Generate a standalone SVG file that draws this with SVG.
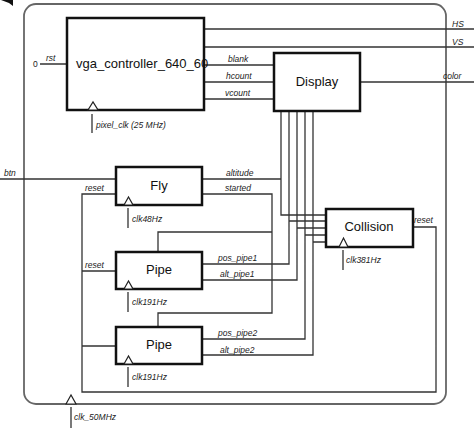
<svg xmlns="http://www.w3.org/2000/svg" width="474" height="428" viewBox="0 0 474 428">
<style>
.box{fill:#fff;stroke:#111;stroke-width:2.5}
.w{fill:none;stroke:#333;stroke-width:1.3}
.tri{fill:#fff;stroke:#222;stroke-width:1.2}
.t{font-family:"Liberation Sans",Arial,sans-serif;font-size:13px;fill:#111}
.l{font-family:"Liberation Sans",Arial,sans-serif;font-size:8.5px;font-style:italic;fill:#222}
.c{text-anchor:middle}
</style>
<rect x="0" y="0" width="474" height="428" fill="#fff"/>
<polygon points="1,0 13,0 13,6 9,3" fill="#111"/>
<rect id="outer" x="24" y="4" width="422" height="400" rx="12" fill="none" stroke="#666" stroke-width="1.8"/>
<g id="connectors">
<path class="w" d="M40,64H66M92,114V133M204,29H474M204,47H474M204,65H273M204,82H273M204,99H273M360,82H474"/>
<path class="w" d="M0,179H115M202,179H281V215H325M289,111V264H202M289,221H325M297,111V280H202M297,228H325M305,111V339H202M305,235H325M313,111V355H202M313,242H325M281,111V179"/>
<path class="w" d="M202,194H272V313H158V327M272,232H158V252"/>
<path class="w" d="M115,194H82V392H436V227H413M82,271H115M82,346H115"/>
<path class="w" d="M343,250V270M128,208V228M128,292V312M128,367V387M71,407V428"/>
<polygon class="tri" points="66,404 71,395 76,404"/>
</g>
<g id="vga">
<rect class="box" x="67" y="18" width="137" height="92"/>
<text class="t" x="76" y="68">vga_controller_640_60</text>
<polygon class="tri" points="88,110 93,102 98,110"/>
</g>
<g id="display">
<rect class="box" x="274" y="53" width="86" height="58"/>
<text class="t c" x="317" y="86">Display</text>
</g>
<g id="fly">
<rect class="box" x="116" y="167" width="86" height="38"/>
<text class="t c" x="159" y="190">Fly</text>
<polygon class="tri" points="124,205 128.5,197 133,205"/>
</g>
<g id="pipe1">
<rect class="box" x="116" y="252" width="86" height="37"/>
<text class="t c" x="159" y="274">Pipe</text>
<polygon class="tri" points="124,289 128.5,281 133,289"/>
</g>
<g id="pipe2">
<rect class="box" x="116" y="327" width="86" height="37"/>
<text class="t c" x="159" y="349">Pipe</text>
<polygon class="tri" points="124,364 128.5,356 133,364"/>
</g>
<g id="collision">
<rect class="box" x="326" y="209" width="87" height="38"/>
<text class="t c" x="369" y="231">Collision</text>
<polygon class="tri" points="339,247 343.5,238 348,247"/>
</g>
<g id="labels">
<text class="l" x="33" y="67" style="font-style:normal">0</text>
<text class="l" x="46" y="61">rst</text>
<text class="l" x="96" y="128">pixel_clk (25 MHz)</text>
<text class="l" x="452" y="27">HS</text>
<text class="l" x="452" y="45">VS</text>
<text class="l" x="228" y="62">blank</text>
<text class="l" x="226" y="79">hcount</text>
<text class="l" x="225" y="96">vcount</text>
<text class="l" x="443" y="79">color</text>
<text class="l" x="4" y="176">btn</text>
<text class="l" x="85" y="191">reset</text>
<text class="l" x="85" y="268">reset</text>
<text class="l" x="226" y="176">altitude</text>
<text class="l" x="225" y="191">started</text>
<text class="l" x="218" y="261">pos_pipe1</text>
<text class="l" x="220" y="277">alt_pipe1</text>
<text class="l" x="218" y="336">pos_pipe2</text>
<text class="l" x="220" y="353">alt_pipe2</text>
<text class="l" x="414" y="223">reset</text>
<text class="l" x="132" y="222">clk48Hz</text>
<text class="l" x="132" y="305">clk191Hz</text>
<text class="l" x="132" y="380">clk191Hz</text>
<text class="l" x="346" y="263">clk381Hz</text>
<text class="l" x="74" y="420">clk_50MHz</text>
</g>
</svg>
